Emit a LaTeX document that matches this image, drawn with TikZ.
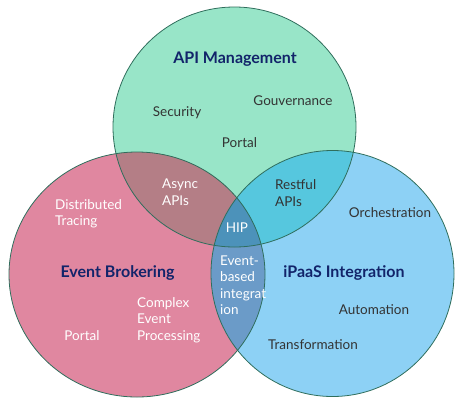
\documentclass[tikz,border=0pt]{standalone}
\usepackage{fontspec}
\setmainfont{Lato}
\usepackage{xcolor}
\usetikzlibrary{positioning}
\definecolor{MintFill}{HTML}{98E5C8}
\definecolor{RoseFill}{HTML}{E087A0}
\definecolor{SkyFill}{HTML}{8DD1F5}
\definecolor{MintRose}{HTML}{B47E86}
\definecolor{MintSky}{HTML}{56C7DE}
\definecolor{RoseSky}{HTML}{6B9BC8}
\definecolor{AllThree}{HTML}{4C92BA}
\definecolor{RimGreen}{HTML}{2F6E5C}
\definecolor{TitleNavy}{HTML}{12246A}
\definecolor{LabelGray}{HTML}{333333}

\begin{document}
\begin{tikzpicture}[x=1pt,y=-1pt,
    every node/.style={inner sep=0pt, font=\fontsize{13.5}{16.5}\selectfont},
    lbl/.style={text=LabelGray, align=left},
    wlbl/.style={text=white, align=left},
    ttl/.style={text=TitleNavy, font=\fontsize{16}{19}\selectfont\bfseries},
    rim/.style={draw=RimGreen, line width=0.8pt}]
  \useasboundingbox (0,0) rectangle (466,400);
  \coordinate (cApi)   at (234.5,127);
  \coordinate (cBrok)  at (137,274.5);
  \coordinate (cIpaas) at (332.5,273.5);
  \def\apiset{(cApi) ellipse [x radius=121.5pt, y radius=120pt]}
  \def\brokset{(cBrok) ellipse [x radius=128pt, y radius=122.5pt]}
  \def\ipaasset{(cIpaas) ellipse [x radius=121.5pt, y radius=123pt]}
  % circles
  \fill[MintFill] \apiset;
  \fill[RoseFill] \brokset;
  \fill[SkyFill] \ipaasset;
  % overlaps
  \begin{scope}
    \clip \apiset; \fill[MintRose] \brokset;
  \end{scope}
  \begin{scope}
    \clip \apiset; \fill[MintSky] \ipaasset;
  \end{scope}
  \begin{scope}
    \clip \brokset; \fill[RoseSky] \ipaasset;
  \end{scope}
  \begin{scope}
    \clip \apiset; \clip \brokset; \fill[AllThree] \ipaasset;
  \end{scope}
  \draw[rim] \apiset; \draw[rim] \brokset; \draw[rim] \ipaasset;
  % API Management
  \node[ttl] (apiTitle) at (235,59) {API Management};
  \node[lbl] (apiSec) at (177,113) {Security};
  \node[lbl] (apiGov) at (293,101) {Gouvernance};
  \node[lbl] (apiPortal) at (239.5,143) {Portal};
  % overlaps
  \node[wlbl, anchor=west] (asyncApi) at (162,192) {Async\\APIs};
  \node[lbl, anchor=west] (restApi) at (275,193) {Restful\\APIs};
  \node[wlbl] (hip) at (237,228) {HIP};
  \node[wlbl, anchor=west] (evtInteg) at (220,285) {Event-\\based\\integrat\\ion};
  % Event Brokering
  \node[wlbl, anchor=west] (distTrace) at (55,214) {Distributed\\Tracing};
  \node[ttl] (brokTitle) at (117.5,273) {Event Brokering};
  \node[wlbl, anchor=west] (cep) at (137,320) {Complex\\Event\\Processing};
  \node[wlbl] (brokPortal) at (82,336) {Portal};
  % iPaaS Integration
  \node[lbl] (orch) at (390,213) {Orchestration};
  \node[ttl] (ipaasTitle) at (344,273) {iPaaS Integration};
  \node[lbl] (autom) at (374,310) {Automation};
  \node[lbl] (transf) at (313,345) {Transformation};
\end{tikzpicture}
\end{document}
